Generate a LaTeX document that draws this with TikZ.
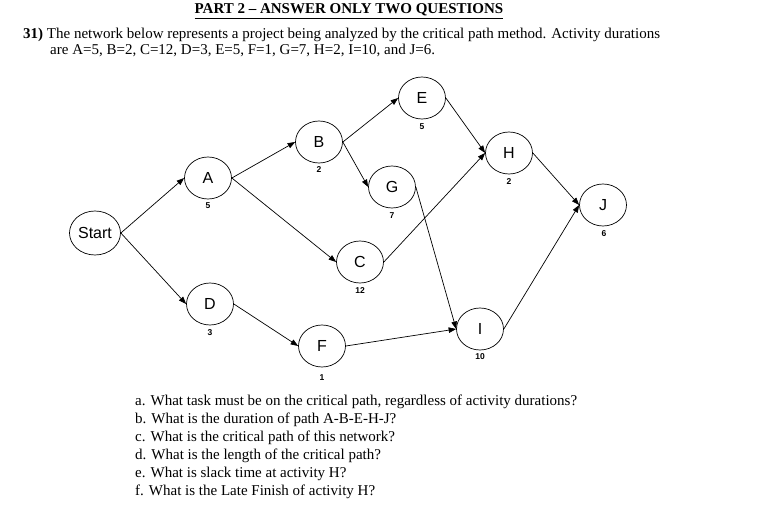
\documentclass[tikz,border=0pt]{standalone}
\usepackage{fontspec}
\setmainfont{Liberation Serif}
\newfontfamily\arialf{Liberation Sans}
\usetikzlibrary{shapes.geometric,arrows.meta}
\begin{document}
\begin{tikzpicture}[x=1pt,y=-1pt,
  act/.style={draw, ellipse, line width=0.7pt, minimum width=47pt, minimum height=42pt, inner sep=0pt, font=\arialf\fontsize{16}{16}\selectfont},
  dur/.style={font=\arialf\bfseries\fontsize{8.5}{9}\selectfont, inner sep=0pt},
  link/.style={line width=0.7pt, -{Triangle[length=7.5pt,width=5.5pt]}},
  txt/.style={anchor=base west, inner sep=0pt, font=\fontsize{15}{15}\selectfont},
  qtxt/.style={anchor=base west, inner sep=0pt, font=\fontsize{15}{15}\selectfont}
]
\useasboundingbox[fill=white] (0,0) rectangle (757,527);

% header text
\node[anchor=base, inner sep=0pt, font=\bfseries\fontsize{15}{15}\selectfont] (title) at (349,14) {\underline{PART 2 -- ANSWER ONLY TWO QUESTIONS}};
\node[txt] (intro1) at (23,39) {\textbf{31)} The network below represents a project being analyzed by the critical path method. Activity durations};
\node[txt] (intro2) at (50,54.5) {are A=5, B=2, C=12, D=3, E=5, F=1, G=7, H=2, I=10, and J=6.};

% activities
\node[act, minimum width=51pt, minimum height=44pt] (start) at (95,233) {Start};
\node[act] (A) at (208,178) {A};
\node[act] (B) at (319,142) {B};
\node[act] (E) at (422,98) {E};
\node[act] (G) at (392,187) {G};
\node[act] (C) at (360,262) {C};
\node[act] (H) at (509,153) {H};
\node[act] (J) at (603,205) {J};
\node[act] (D) at (210,304) {D};
\node[act] (F) at (322,346) {F};
\node[act] (I) at (480,329) {I};

% durations
\node[dur] (dA) at (208,206) {5};
\node[dur] (dB) at (319,170) {2};
\node[dur] (dE) at (422,127) {5};
\node[dur] (dG) at (392,216) {7};
\node[dur] (dC) at (360,291) {12};
\node[dur] (dH) at (509,182) {2};
\node[dur] (dJ) at (604,234) {6};
\node[dur] (dD) at (210,333) {3};
\node[dur] (dF) at (322,378) {1};
\node[dur] (dI) at (480,357) {10};

% connectors
\draw[link] (start.east) -- (A.west);
\draw[link] (start.east) -- (D.west);
\draw[link] (A.east) -- (B.west);
\draw[link] (A.east) -- (C.west);
\draw[link] (B.east) -- (E.west);
\draw[link] (B.east) -- (G.west);
\draw[link] (E.east) -- (H.west);
\draw[link] (C.east) -- (H.west);
\draw[link] (G.east) -- (I.west);
\draw[link] (D.east) -- (F.west);
\draw[link] (F.east) -- (I.west);
\draw[link] (H.east) -- (J.west);
\draw[link] (I.east) -- (J.west);

% questions
\node[qtxt] (qa) at (135,405) {a. What task must be on the critical path, regardless of activity durations?};
\node[qtxt] (qb) at (135,423) {b. What is the duration of path A-B-E-H-J?};
\node[qtxt] (qc) at (135,441) {c. What is the critical path of this network?};
\node[qtxt] (qd) at (135,459) {d. What is the length of the critical path?};
\node[qtxt] (qe) at (135,477) {e. What is slack time at activity H?};
\node[qtxt] (qf) at (135,495) {f. What is the Late Finish of activity H?};
\end{tikzpicture}
\end{document}
